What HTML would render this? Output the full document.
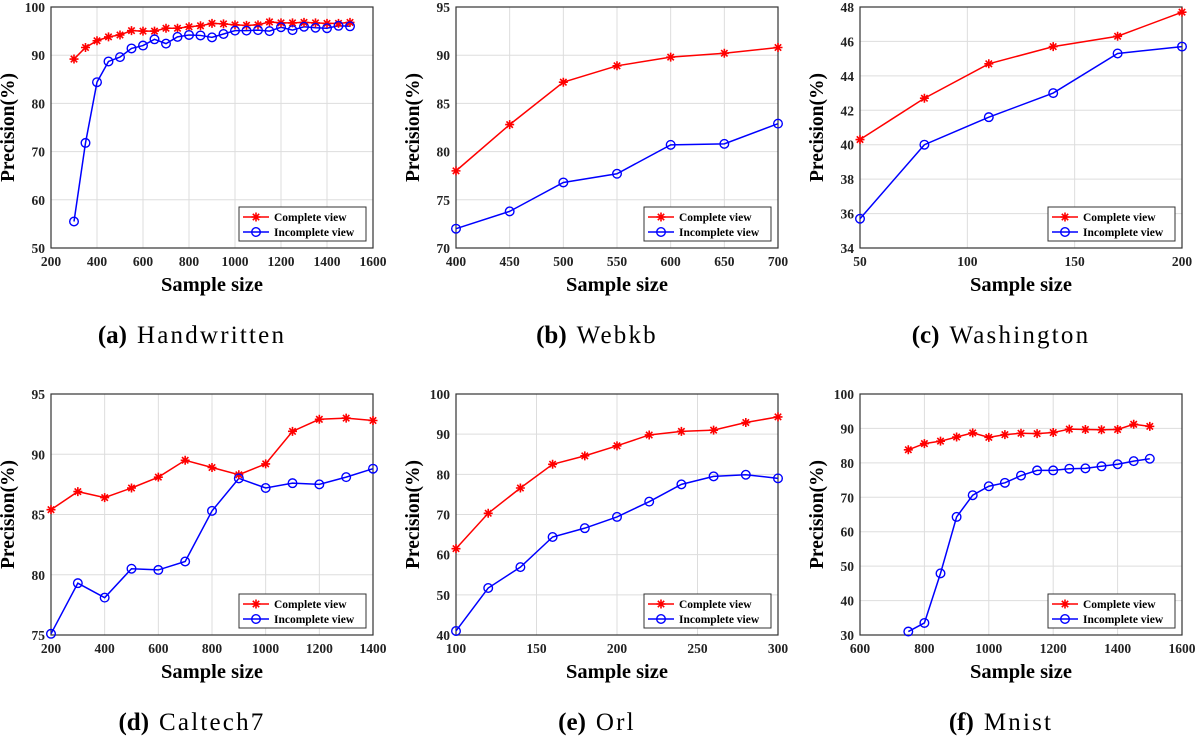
<!DOCTYPE html>
<html><head><meta charset="utf-8"><style>
body{margin:0;background:#fff;width:1200px;height:739px;overflow:hidden}
svg{display:block}
text{font-family:"Liberation Serif",serif}
</style></head><body>
<svg id="s" width="1200" height="739"></svg>
<script>
const xA=[300,350,400,450,500,550,600,650,700,750,800,850,900,950,1000,1050,1100,1150,1200,1250,1300,1350,1400,1450,1500];
const cA=[89.2,91.6,93,93.8,94.2,95.1,95,95,95.6,95.6,95.9,96.1,96.6,96.5,96.3,96.2,96.3,96.9,96.7,96.7,96.8,96.7,96.6,96.6,96.8];
const iA=[55.5,71.8,84.4,88.7,89.6,91.4,92,93.3,92.4,93.8,94.2,94.1,93.7,94.4,95.1,95.1,95.2,95,95.8,95.2,95.9,95.7,95.6,96.1,96];
const xB=[400,450,500,550,600,650,700];
const cB=[78,82.8,87.2,88.9,89.8,90.2,90.8];
const iB=[72,73.8,76.8,77.7,80.7,80.8,82.9];
const xC=[50,80,110,140,170,200];
const cC=[40.3,42.7,44.7,45.7,46.3,47.7];
const iC=[35.7,40,41.6,43,45.3,45.7];
const xD=[200,300,400,500,600,700,800,900,1000,1100,1200,1300,1400];
const cD=[85.4,86.9,86.4,87.2,88.1,89.5,88.9,88.3,89.2,91.9,92.9,93,92.8];
const iD=[75.1,79.3,78.1,80.5,80.4,81.1,85.3,88,87.2,87.6,87.5,88.1,88.8];
const xE=[100,120,140,160,180,200,220,240,260,280,300];
const cE=[61.5,70.3,76.6,82.5,84.6,87.1,89.8,90.7,91,92.9,94.3];
const iE=[41,51.7,56.9,64.4,66.6,69.4,73.2,77.5,79.5,79.9,79];
const xF=[750,800,850,900,950,1000,1050,1100,1150,1200,1250,1300,1350,1400,1450,1500];
const cF=[83.8,85.6,86.3,87.5,88.7,87.4,88.2,88.6,88.5,88.8,89.8,89.7,89.6,89.7,91.2,90.6];
const iF=[31,33.5,47.9,64.3,70.6,73.2,74.2,76.3,77.8,77.8,78.3,78.4,79,79.6,80.5,81.2];
const xtA=[200,400,600,800,1000,1200,1400,1600], ytA=[50,60,70,80,90,100];
const xtB=[400,450,500,550,600,650,700], ytB=[70,75,80,85,90,95];
const xtC=[50,100,150,200], ytC=[34,36,38,40,42,44,46,48];
const xtD=[200,400,600,800,1000,1200,1400], ytD=[75,80,85,90,95];
const xtE=[100,150,200,250,300], ytE=[40,50,60,70,80,90,100];
const xtF=[600,800,1000,1200,1400,1600], ytF=[30,40,50,60,70,80,90,100];
const caps=[["(a)","Handwritten"],["(b)","Webkb"],["(c)","Washington"],["(d)","Caltech7"],["(e)","Orl"],["(f)","Mnist"]];
const NS="http://www.w3.org/2000/svg";const S=document.getElementById('s');
function el(t,a,p){const e=document.createElementNS(NS,t);for(const k in a)e.setAttribute(k,a[k]);(p||S).appendChild(e);return e;}
const panels=[[xA,cA,iA,xtA,ytA],[xB,cB,iB,xtB,ytB],[xC,cC,iC,xtC,ytC],[xD,cD,iD,xtD,ytD],[xE,cE,iE,xtE,ytE],[xF,cF,iF,xtF,ytF]];
const lefts=[51,456,860],tops=[7,394],W=322,H=241;
function star(g,x,y){const p=el('path',{d:`M${x-4.5} ${y}H${x+4.5}M${x} ${y-4.5}V${y+4.5}M${x-3.2} ${y-3.2}L${x+3.2} ${y+3.2}M${x-3.2} ${y+3.2}L${x+3.2} ${y-3.2}`,stroke:'#f00','stroke-width':1.6},g);}
function circ(g,x,y){const c=el('circle',{cx:x,cy:y,r:4.3,fill:'none',stroke:'#00f','stroke-width':1.4},g);}
panels.forEach((P,k)=>{
 const [xs,cs,is,xt,yt]=P;const L=lefts[k%3],T=tops[Math.floor(k/3)];
 const g=el('g',{});
 const x0=xt[0],x1=xt[xt.length-1],y0=yt[0],y1=yt[yt.length-1];
 const X=v=>L+(v-x0)/(x1-x0)*W, Y=v=>T+H-(v-y0)/(y1-y0)*H;
 xt.forEach(v=>{el('line',{x1:X(v),x2:X(v),y1:T,y2:T+H,stroke:'#ddd','stroke-width':1},g);
  const t=el('text',{x:X(v),y:T+H+18,'text-anchor':'middle','font-size':13.5,'font-weight':'bold',fill:'#222'},g);t.textContent=v;});
 yt.forEach(v=>{el('line',{x1:L,x2:L+W,y1:Y(v),y2:Y(v),stroke:'#ddd','stroke-width':1},g);
  const t=el('text',{x:L-6,y:Y(v)+5,'text-anchor':'end','font-size':13.5,'font-weight':'bold',fill:'#222'},g);t.textContent=v;});
 el('rect',{x:L,y:T,width:W,height:H,fill:'none',stroke:'#333','stroke-width':1.2},g);
 const lc=el('polyline',{points:xs.map((x,i)=>X(x)+','+Y(cs[i])).join(' '),fill:'none',stroke:'#f00','stroke-width':1.5},g);
 
 const li=el('polyline',{points:xs.map((x,i)=>X(x)+','+Y(is[i])).join(' '),fill:'none',stroke:'#00f','stroke-width':1.5},g);
 
 xs.forEach((x,i)=>{star(g,X(x),Y(cs[i]));circ(g,X(x),Y(is[i]));});
 const lg=el('g',{},g);
 const bx=L+W-134,by=T+H-41;
 el('rect',{x:bx,y:by,width:127,height:34,fill:'#fff',stroke:'#333','stroke-width':1},lg);
 el('line',{x1:bx+4,x2:bx+30,y1:by+10,y2:by+10,stroke:'#f00','stroke-width':1.5},lg);star(lg,bx+17,by+10);
 el('line',{x1:bx+4,x2:bx+30,y1:by+25,y2:by+25,stroke:'#00f','stroke-width':1.5},lg);circ(lg,bx+17,by+25);
 let t=el('text',{x:bx+35,y:by+14,'font-size':11.5,'font-weight':'bold'},lg);t.textContent='Complete view';
 t=el('text',{x:bx+35,y:by+29,'font-size':11.5,'font-weight':'bold'},lg);t.textContent='Incomplete view';
 t=el('text',{x:L+W/2,y:T+H+43,'text-anchor':'middle','font-size':20.5,'font-weight':'bold'},g);t.textContent='Sample size';
 const yc=T+H/2,xc=L-37;
 t=el('text',{x:xc,y:yc,'text-anchor':'middle','font-size':19.5,'font-weight':'bold',transform:`rotate(-90 ${xc} ${yc})`},g);t.textContent='Precision(%)';
 t=el('text',{x:L+W/2-20,y:T+H+95,'text-anchor':'middle','font-size':25},g);
 const b=el('tspan',{'font-weight':'bold'},t);b.textContent=caps[k][0];const s=el('tspan',{dx:10,'letter-spacing':2.2},t);s.textContent=caps[k][1];
});
</script></body></html>
